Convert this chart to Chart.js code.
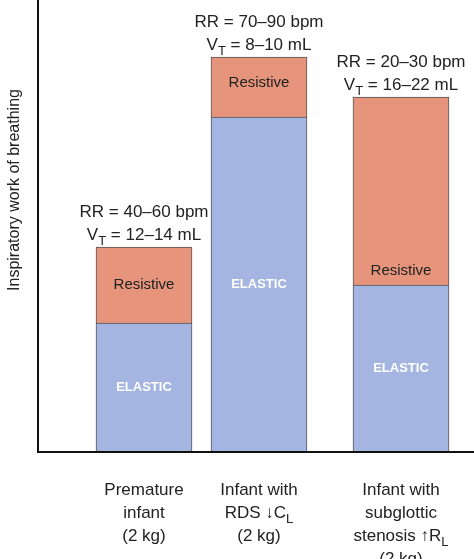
<!DOCTYPE html>
<html>
<head>
<meta charset="utf-8">
<script src="https://cdn.jsdelivr.net/npm/chart.js@4/dist/chart.umd.min.js"></script>
<style>
  html, body { margin: 0; padding: 0; background: #fff; }
  #wrap { width: 474px; height: 559px; }
</style>
</head>
<body>
<div id="wrap"><canvas id="c"></canvas></div>
<script>
// positions along the x axis (arbitrary units) and work values (arbitrary units)
const groupX = [106, 221, 363];
const elastic = [129, 335, 167];
const resistive = [76, 60, 188];
const topNotes = [
  ["RR = 40–60 bpm", "V_T = 12–14 mL"],
  ["RR = 70–90 bpm", "V_T = 8–10 mL"],
  ["RR = 20–30 bpm", "V_T = 16–22 mL"],
];
const groupLabels = [
  ["Premature", "infant", "(2 kg)"],
  ["Infant with", "RDS ↓C_L", "(2 kg)"],
  ["Infant with", "subglottic", "stenosis ↑R_L", "(2 kg)"],
];
const yTitle = "Inspiratory work of breathing";

const FONT = "'Liberation Sans', Arial, sans-serif";
const resistiveShift = [0, -4, 80];

// draws "V_T" style text with a one-char subscript, centred at x
function drawSubText(ctx, str, x, y, size) {
  const parts = [];
  let i = 0;
  while (i < str.length) {
    if (str[i] === "_") { parts.push([str[i + 1], true]); i += 2; }
    else {
      let j = i;
      while (j < str.length && str[j] !== "_") j++;
      parts.push([str.slice(i, j), false]); i = j;
    }
  }
  const subSize = Math.round(size * 0.75);
  let w = 0;
  parts.forEach(([t, sub]) => {
    ctx.font = (sub ? subSize : size) + "px " + FONT;
    w += ctx.measureText(t).width;
  });
  let cx = x - w / 2;
  ctx.textAlign = "left";
  ctx.textBaseline = "alphabetic";
  parts.forEach(([t, sub]) => {
    ctx.font = (sub ? subSize : size) + "px " + FONT;
    ctx.fillText(t, cx, sub ? y + 5 : y);
    cx += ctx.measureText(t).width;
  });
}

const decorations = {
  id: "decorations",
  afterDatasetsDraw(chart) {
    const ctx = chart.ctx;
    const area = chart.chartArea;
    const x = chart.scales.x;
    ctx.save();
    ctx.strokeStyle = "#111";
    ctx.lineWidth = 2;
    ctx.beginPath();
    ctx.moveTo(area.left, area.top);
    ctx.lineTo(area.left, area.bottom);
    ctx.lineTo(area.right, area.bottom);
    ctx.stroke();

    const elBars = chart.getDatasetMeta(0).data;
    const reBars = chart.getDatasetMeta(1).data;
    groupX.forEach((gx, i) => {
      const px = x.getPixelForValue(gx);
      const topY = reBars[i].y;
      ctx.fillStyle = "#222";
      drawSubText(ctx, topNotes[i][0], px, topY - 30, 17);
      drawSubText(ctx, topNotes[i][1], px, topY - 7, 17);

      groupLabels[i].forEach((ln, k) => {
        drawSubText(ctx, ln, px, area.bottom + 43 + k * 23, 17);
      });

      const r = reBars[i];
      ctx.font = "15px " + FONT;
      ctx.textAlign = "center";
      ctx.textBaseline = "middle";
      ctx.fillText("Resistive", px, (r.y + r.base) / 2 + resistiveShift[i]);

      const e = elBars[i];
      ctx.fillStyle = "#fff";
      ctx.font = "bold 13px " + FONT;
      ctx.fillText("ELASTIC", px, (e.y + e.base) / 2);
    });

    ctx.fillStyle = "#222";
    ctx.font = "16px " + FONT;
    ctx.translate(15, 190);
    ctx.rotate(-Math.PI / 2);
    ctx.textAlign = "center";
    ctx.textBaseline = "middle";
    ctx.fillText(yTitle, 0, 0);
    ctx.restore();
  }
};

new Chart(document.getElementById("c"), {
  type: "bar",
  data: {
    datasets: [
      {
        label: "Elastic",
        data: groupX.map((gx, i) => ({ x: gx, y: elastic[i] })),
        backgroundColor: "#a4b5e2",
        borderColor: "#555",
        borderWidth: 1,
        barThickness: 96,
        stack: "s",
      },
      {
        label: "Resistive",
        data: groupX.map((gx, i) => ({ x: gx, y: resistive[i] })),
        backgroundColor: "#e6957c",
        borderColor: "#555",
        borderWidth: 1,
        barThickness: 96,
        stack: "s",
      },
    ],
  },
  options: {
    responsive: true,
    maintainAspectRatio: false,
    animation: false,
    layout: { padding: { left: 38, top: 0, right: 0, bottom: 107 } },
    plugins: { legend: { display: false }, tooltip: { enabled: false } },
    scales: {
      x: { type: "linear", min: 0, max: 436, offset: false, display: false, stacked: true },
      y: { min: 0, max: 452, display: false, stacked: true },
    },
  },
  plugins: [decorations],
});
</script>
</body>
</html>
